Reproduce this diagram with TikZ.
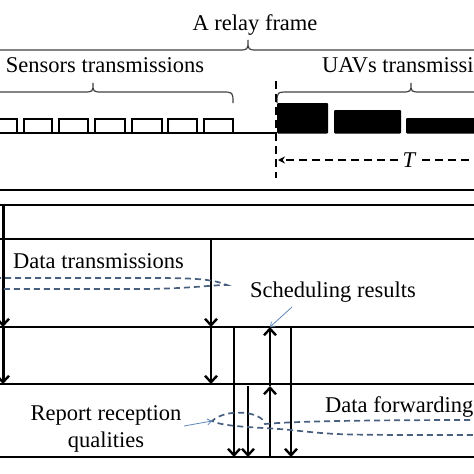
\documentclass[tikz,border=0pt]{standalone}
\usepackage{fontspec}
\setmainfont{Liberation Serif}
\usetikzlibrary{arrows.meta}
\definecolor{loopcol}{RGB}{72,96,128}
\definecolor{pointcol}{RGB}{95,135,185}
\begin{document}
\begin{tikzpicture}[x=1pt,y=-1pt,
  lbl/.style={font=\fontsize{22.5}{25}\selectfont, inner sep=0pt},
  bracepath/.style={draw=black!75, line width=1.2pt},
  slot/.style={draw=black, line width=2.3pt, fill=white},
  burst/.style={fill=black, rounded corners=1pt},
  hline/.style={line width=1.6pt},
  varrow/.style={line width=2.4pt, -{Straight Barb[length=6.5pt,width=12pt,line width=2.4pt]}},
  dashv/.style={line width=1.8pt, dash pattern=on 8pt off 5pt},
  loopline/.style={draw=loopcol, line width=1.7pt, dash pattern=on 6pt off 4pt},
  pointer/.style={draw=pointcol, line width=0.8pt, -{Straight Barb[length=4pt,width=6pt]}}
]
\useasboundingbox (0,0) rectangle (474,474);
\clip (0,0) rectangle (474,474);

% ---- text
\node[lbl, anchor=base] (frame) at (255,30) {A relay frame};
\node[lbl, anchor=base] (sens) at (105,72) {Sensors transmissions};
\node[lbl, anchor=base west] (uav) at (322,72) {UAVs transmissions};
\node[lbl, anchor=base, font=\fontsize{22.5}{25}\selectfont\itshape] (T) at (409,167) {T};
\node[lbl, anchor=base west] (data) at (13,268) {Data transmissions};
\node[lbl, anchor=base west] (sched) at (250,297) {Scheduling results};
\node[lbl, anchor=base] (report) at (106,420) {Report reception};
\node[lbl, anchor=base] (qual) at (106,447) {qualities};
\node[lbl, anchor=base west] (fwd) at (325,412) {Data forwarding};

% ---- braces
\draw[bracepath] (-20,62) .. controls (-20,50) .. (-8,50) -- (238,50)
  .. controls (248,50) .. (248,40) .. controls (248,50) .. (258,50) -- (484,50);
\draw[bracepath] (-20,92) -- (83,92) .. controls (93,92) .. (93,83)
  .. controls (93,92) .. (103,92) -- (222,92) .. controls (233,92) .. (233,103);
\draw[bracepath] (277,103) .. controls (277,92) .. (289,92) -- (401,92)
  .. controls (411,92) .. (411,83) .. controls (411,92) .. (421,92) -- (490,92);

% ---- sensor slots and UAV bursts
\draw[line width=1.5pt] (0,133) -- (277,133);
\foreach \a/\b in {-12/17, 24/52, 59/88, 95/125, 132/162, 168/197, 204/233}
  \draw[slot] (\a,119) rectangle (\b,133);
\fill[burst] (277,103) rectangle (328,133.5);
\fill[burst] (334,110) rectangle (401,133.5);
\fill[burst] (406,118) rectangle (485,133.5);

\draw[dashv] (276,81) -- (276,178);
\coordinate (Tleft) at (278,160);
\coordinate (Tright) at (480,160);
\coordinate (TL) at (398,160);
\coordinate (TR) at (422,160);
\draw[dashv, -{Stealth[length=7pt,width=7pt]}] (TL) -- (Tleft);
\draw[dashv] (TR) -- (Tright);

% ---- lower panel lines
\draw[line width=2.6pt] (0,190) -- (474,190);
\draw[hline] (0,205) -- (474,205);
\draw[hline] (0,239) -- (474,239);
\draw[hline] (0,327) -- (474,327);
\draw[hline] (0,384) -- (474,384);
\draw[line width=2pt] (0,457) -- (474,457);

% ---- vertical arrows
\coordinate (a0) at (3,205); \coordinate (a1) at (3,327); \coordinate (a2) at (3,384);
\draw[varrow, line width=3pt] (a0) -- (a1);
\draw[varrow, line width=3pt] (a1) -- (a2);
\coordinate (b0) at (211,239); \coordinate (b1) at (211,327); \coordinate (b2) at (211,384);
\draw[varrow] (b0) -- (b1);
\draw[varrow] (b1) -- (b2);
\coordinate (c0) at (234,327); \coordinate (c1) at (234,457);
\draw[varrow] (c0) -- (c1);
\coordinate (d0) at (248,386); \coordinate (d1) at (248,457);
\draw[varrow] (d0) -- (d1);
\coordinate (e0) at (270,457); \coordinate (e1) at (270,386); \coordinate (e2) at (270,327);
\draw[varrow] (e0) -- (e1);
\draw[varrow] (e1) -- (e2);
\coordinate (f0) at (291,327); \coordinate (f1) at (291,457);
\draw[varrow] (f0) -- (f1);

% ---- dashed loops
\draw[loopline] (-5,278) -- (150,278) .. controls (195,278) and (212,279) .. (227,285)
  .. controls (212,285) and (195,288) .. (150,289) -- (-5,289);
\coordinate (looptip) at (212,421);
\draw[loopline] (480,420) .. controls (380,420) and (295,421) .. (265,424)
  .. controls (262,411) and (226,408) .. (looptip)
  .. controls (226,428) and (268,427) .. (300,431) .. controls (340,435) .. (480,435);

% ---- pointers
\coordinate (schedtail) at (292,307);
\coordinate (reporttail) at (184,426);
\draw[pointer] (schedtail) -- (e2);
\draw[pointer] (reporttail) -- (looptip);
\end{tikzpicture}
\end{document}
